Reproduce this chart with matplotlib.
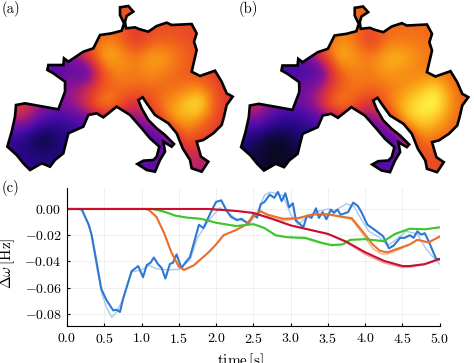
import numpy as np
import matplotlib
matplotlib.use('Agg')
import matplotlib.pyplot as plt
from matplotlib.colors import LinearSegmentedColormap
from matplotlib.patches import Polygon

plt.rcParams['mathtext.fontset'] = 'cm'
plt.rcParams['font.family'] = ['cmr10', 'DejaVu Sans']

# region outline
outline_x = [360,385,400,380,375,378,405,420,445,470,500,515,575,590,582,590,575,600,645,665,680,698,680,672,665,640,610,590,603,625,605,575,570,548,530,505,465,440,428,415,425,445,470,495,522,515,490,495,480,465,440,412,430,460,470,478,450,425,390,350,310,290,265,250,205,190,165,150,125,90,70,50,22,35,45,48,75,175,195,195,160,142,145,190,192,205,250,280,300,335,365,372,360]
outline_y = [22,18,35,48,65,85,82,88,95,78,68,75,72,100,125,150,215,228,212,245,280,290,315,350,375,400,420,425,470,485,515,505,480,445,400,370,345,310,292,300,325,360,385,405,432,440,425,455,480,515,510,492,482,480,470,440,415,385,345,320,352,340,345,380,400,460,480,500,490,510,490,465,440,395,350,315,310,328,275,245,220,210,195,195,175,185,155,145,105,100,92,70,45]

# field values on a coarse grid, rows top to bottom
field_a = [
    [.40,.40,.40,.40,.50,.55,.60,.60,.60,.56,.56,.56,.56,.56,.56],
    [.40,.40,.40,.40,.50,.55,.62,.60,.56,.56,.58,.56,.56,.56,.56],
    [.40,.40,.40,.33,.42,.58,.70,.68,.46,.62,.62,.60,.56,.52,.52],
    [.33,.33,.28,.26,.33,.50,.85,.76,.68,.80,.76,.66,.58,.52,.52],
    [.33,.33,.28,.20,.28,.16,.62,.74,.68,.76,.68,.62,.58,.52,.50],
    [.45,.45,.36,.32,.36,.45,.62,.66,.66,.64,.65,.68,.74,.58,.50],
    [.52,.52,.38,.32,.36,.50,.80,.62,.42,.60,.74,.85,1.0,.58,.50],
    [.36,.44,.24,.16,.20,.26,.33,.35,.32,.40,.72,.82,.72,.56,.48],
    [.18,.13,.00,.08,.13,.16,.20,.23,.23,.20,.28,.65,.58,.50,.48],
    [.13,.11,.08,.08,.12,.16,.20,.23,.23,.23,.28,.50,.43,.43,.43],
    [.13,.13,.13,.13,.13,.16,.20,.23,.26,.26,.28,.42,.40,.40,.40],
    [.13,.13,.13,.13,.13,.16,.20,.23,.26,.26,.28,.40,.40,.40,.40],
]
field_b = [
    [.38,.38,.38,.38,.50,.58,.66,.66,.66,.64,.64,.64,.64,.64,.64],
    [.38,.38,.38,.38,.50,.60,.68,.66,.60,.66,.66,.66,.66,.64,.64],
    [.38,.38,.38,.28,.40,.62,.74,.70,.48,.68,.68,.68,.66,.60,.60],
    [.28,.28,.24,.20,.28,.50,.86,.74,.70,.82,.82,.72,.68,.60,.60],
    [.28,.28,.24,.18,.22,.20,.62,.72,.68,.78,.72,.70,.68,.64,.60],
    [.42,.42,.30,.28,.30,.42,.62,.68,.66,.66,.74,.80,.95,.70,.60],
    [.48,.48,.30,.26,.30,.48,.78,.62,.42,.68,.84,.95,1.0,.74,.62],
    [.26,.30,.16,.12,.16,.24,.30,.33,.30,.40,.80,.90,.84,.68,.60],
    [.14,.06,.00,.05,.10,.14,.18,.22,.22,.20,.32,.72,.70,.64,.60],
    [.08,.03,.00,.01,.08,.14,.18,.22,.22,.20,.28,.60,.58,.56,.56],
    [.06,.02,.01,.02,.06,.14,.18,.22,.24,.24,.28,.56,.58,.56,.56],
    [.06,.02,.01,.02,.06,.14,.18,.22,.24,.24,.28,.56,.58,.56,.56],
]

# line chart, t in s and delta omega in Hz
t_blue = [0,.15,.2,.29,.33,.40,.46,.53,.62,.665,.71,.755,.866,.955,1.02,1.07,1.12,1.165,1.22,1.27,1.32,1.38,1.42,1.47,1.535,1.6,1.65,1.71,1.77,1.83,1.89,1.96,2.0,2.07,2.14,2.2,2.28,2.34,2.43,2.5,2.55,2.6,2.65,2.72,2.78,2.83,2.88,2.93,2.98,3.03,3.07,3.17,3.22,3.28,3.34,3.38,3.43,3.48,3.54,3.58,3.63,3.67,3.77,3.84,3.9,3.95,4.03,4.13,4.24,4.32,4.38,4.47,4.53,4.6,4.65,4.7,4.75,4.8,4.86,4.95,5]
v_blue = [0,0,-.0005,-.012,-.0195,-.0415,-.061,-.0695,-.0773,-.0768,-.0785,-.068,-.0475,-.0435,-.052,-.0427,-.041,-.037,-.042,-.045,-.053,-.042,-.041,-.0346,-.045,-.04,-.0366,-.0244,-.012,-.0146,-.0073,.001,.0054,.0066,-.0012,-.006,-.0085,-.0075,-.011,-.0044,-.0066,.0037,.0054,.011,.0085,.013,.006,.012,.0012,.0044,-.0085,-.014,-.005,-.0068,.0005,-.0068,-.0024,-.0078,-.0005,-.003,-.0005,-.0044,-.0024,.0049,.0024,-.0024,-.012,-.016,-.0207,-.03,-.028,-.022,-.022,-.02,-.022,-.017,-.0195,-.0185,-.0256,-.0378,-.0385]
t_blue_ref = [0,.19,.3,.4,.47,.53,.6,.66,.74,.87,1.0,1.1,1.2,1.35,1.5,1.65,1.75,1.9,2.05,2.15,2.25,2.45,2.55,2.65,2.72,2.8,2.9,3.0,3.1,3.2,3.35,3.5,3.6,3.75,3.85,3.95,4.05,4.2,4.3,4.4,4.55,4.7,4.8,4.9,5]
v_blue_ref = [0,0,-.012,-.045,-.065,-.075,-.0825,-.079,-.07,-.048,-.0465,-.043,-.0455,-.0465,-.046,-.039,-.022,-.009,.001,-.002,-.007,-.011,-.003,.0105,.0128,.012,.01,-.004,-.012,-.007,-.002,0,-.001,.004,.002,-.008,-.017,-.022,-.028,-.024,-.017,-.019,-.029,-.036,-.042]
t_orange = [0,1.05,1.1,1.2,1.3,1.4,1.5,1.57,1.7,1.9,2.0,2.1,2.27,2.4,2.5,2.6,2.7,2.9,3.1,3.3,3.5,3.7,3.82,3.95,4.1,4.2,4.3,4.45,4.6,4.7,4.85,5]
v_orange = [0,0,-.0008,-.006,-.018,-.033,-.044,-.0465,-.043,-.033,-.027,-.02,-.016,-.012,-.0055,-.002,-.0045,-.0075,-.007,-.004,-.004,-.006,-.007,-.016,-.027,-.032,-.033,-.03,-.027,-.0235,-.0255,-.021]
v_orange_ref = [0,0,-.0008,-.006,-.018,-.033,-.044,-.0462,-.043,-.033,-.027,-.02,-.016,-.012,-.005,-.001,-.006,-.009,-.0075,-.0045,-.0045,-.0065,-.008,-.018,-.03,-.034,-.0345,-.031,-.027,-.0235,-.0255,-.021]
t_green = [0,1.15,1.3,1.45,1.6,1.8,2.0,2.27,2.5,2.65,2.8,2.95,3.2,3.4,3.55,3.7,3.8,4.0,4.25,4.4,4.6,4.8,5]
v_green = [0,0,-.002,-.005,-.0065,-.0075,-.0105,-.013,-.0115,-.0145,-.02,-.0215,-.022,-.0255,-.0275,-.027,-.0235,-.023,-.0245,-.019,-.015,-.0155,-.014]
v_green_ref = [0,0,-.002,-.005,-.0065,-.0075,-.0105,-.013,-.0118,-.015,-.0205,-.0215,-.0228,-.0262,-.028,-.027,-.0238,-.023,-.0245,-.0195,-.015,-.0155,-.014]
t_red = [0,1.9,2.27,2.5,2.75,3,3.5,3.75,4.0,4.25,4.5,4.6,4.8,5]
v_red = [0,0,-.0015,-.003,-.0075,-.0125,-.019,-.025,-.033,-.0395,-.0435,-.0435,-.042,-.038]
v_red_ref = [0,0,-.0015,-.003,-.0075,-.0125,-.019,-.0255,-.0345,-.041,-.0445,-.0443,-.0423,-.0385]

xticks = [0.0,0.5,1.0,1.5,2.0,2.5,3.0,3.5,4.0,4.5,5.0]
yticks = [0.00,-0.02,-0.04,-0.06,-0.08]

heat = LinearSegmentedColormap.from_list('heat', [
    (0.0, '#08081e'), (0.1, '#20087a'), (0.22, '#4a0ca8'), (0.35, '#84129a'),
    (0.46, '#c42858'), (0.56, '#e63c2e'), (0.68, '#f2641a'), (0.80, '#f99a14'),
    (0.90, '#fdc826'), (1.0, '#fff445')])

W, H = 474, 363
fig = plt.figure(figsize=(W / 100, H / 100), dpi=100)


def draw_map(rect, field):
    ax = fig.add_axes([rect[0] / W, 1 - (rect[1] + rect[3]) / H, rect[2] / W, rect[3] / H])
    ax.axis('off')
    im = ax.imshow(field, cmap=heat, vmin=0, vmax=0.95, extent=(0, 720, 576, 0),
                   interpolation='bicubic', aspect='auto')
    ax.set_xlim(0, 711)
    ax.set_ylim(540, 0)
    border = Polygon(np.column_stack([outline_x, outline_y]), closed=True, fc='none',
                     ec='black', lw=1.9, joinstyle='miter')
    ax.add_patch(border)
    im.set_clip_path(border)


draw_map((0, 0, 237, 180), field_a)
draw_map((233.7, 0.5, 239, 180), field_b)

ax = fig.add_axes([67 / W, 1 - 326 / H, 372.7 / W, 138 / H])
ax.plot(t_blue_ref, v_blue_ref, color='#a9c8ee', lw=1.0)
ax.plot(t_orange, v_orange_ref, color='#f3b48c', lw=1.0)
ax.plot(t_green, v_green_ref, color='#a5e39a', lw=1.0)
ax.plot(t_red, v_red_ref, color='#eda0a0', lw=1.2)
ax.plot(t_blue, v_blue, color='#2f78d2', lw=1.5)
ax.plot(t_orange, v_orange, color='#e8702a', lw=1.5)
ax.plot(t_green, v_green, color='#3fc42e', lw=1.5)
ax.plot(t_red, v_red, color='#c8102e', lw=1.5)
ax.set_xlim(0, 5)
ax.set_ylim(-0.0892, 0.016)
ax.spines['top'].set_visible(False)
ax.spines['right'].set_visible(False)
ax.grid(True, color='#000000', alpha=0.07, lw=0.6)
ax.set_axisbelow(True)
ax.set_xticks(xticks)
ax.set_xticklabels([f'${v:.1f}$' for v in xticks], fontsize=10)
ax.set_yticks(yticks)
ax.set_yticklabels([f'${v:.2f}$' for v in yticks], fontsize=10)
ax.tick_params(axis='both', direction='in', length=2.5, width=0.8, pad=4)
ax.set_xlabel(r'$\mathrm{time}\,[\mathrm{s}]$', fontsize=11, labelpad=1)
ax.set_ylabel(r'$\Delta\omega\,[\mathrm{Hz}]$', fontsize=11, labelpad=2)
# labels sit off-centre in the reference
ax.xaxis.set_label_coords((240 - 67) / 372.7, -25 / 138)
ax.yaxis.set_label_coords((17 - 67) / 372.7, (326 - 263) / 138)

for label, px, py in [('(a)', 2, 9), ('(b)', 239, 9), ('(c)', 2, 188)]:
    fig.text(px / W, 1 - py / H, label, fontsize=10.5, va='center', ha='left')

fig.savefig('out.png', dpi=100)
